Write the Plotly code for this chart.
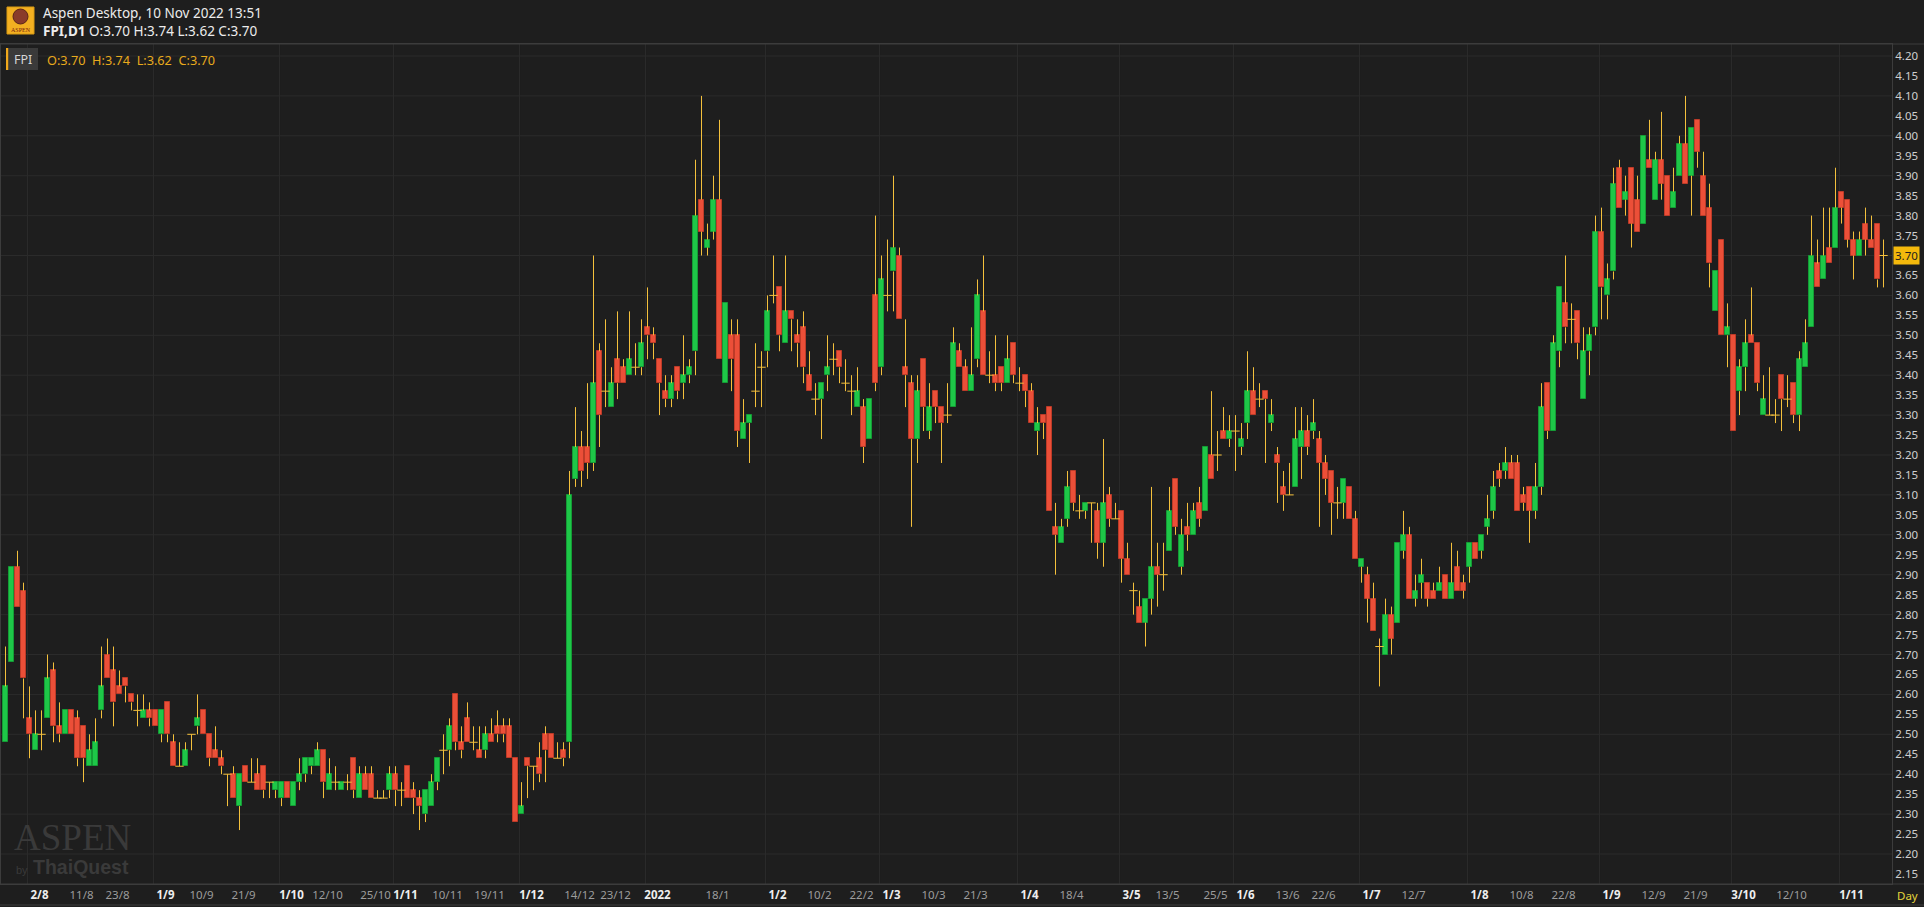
import plotly.graph_objects as go

# ---------------- data ----------------
open_ = [
 2.48,2.68,2.92,2.86,2.54,2.46,2.50,2.54,2.66,2.52,2.50,2.56,2.54,2.52,2.42,2.42,2.56,2.70,2.66,2.62,
 2.64,2.60,2.56,2.54,2.56,2.56,2.50,2.58,2.48,2.42,2.42,2.50,2.52,2.56,2.50,2.46,2.44,2.40,2.40,2.32,
 2.42,2.38,2.40,2.42,2.38,2.36,2.34,2.38,2.32,2.38,2.40,2.42,2.42,2.46,2.36,2.38,2.36,2.38,2.44,2.34,
 2.40,2.40,2.34,2.34,2.36,2.40,2.36,2.42,2.36,2.34,2.30,2.32,2.38,2.46,2.46,2.60,2.48,2.54,2.48,2.46,
 2.46,2.50,2.52,2.52,2.52,2.44,2.30,2.44,2.42,2.44,2.50,2.50,2.44,2.46,2.48,3.14,3.22,3.22,3.18,3.46,
 3.36,3.32,3.44,3.42,3.40,3.42,3.42,3.52,3.50,3.44,3.36,3.34,3.42,3.38,3.40,3.46,3.84,3.72,3.76,3.84,
 3.38,3.50,3.50,3.24,3.28,3.36,3.42,3.46,3.60,3.62,3.48,3.56,3.50,3.52,3.40,3.34,3.34,3.40,3.44,3.46,
 3.38,3.36,3.32,3.32,3.24,3.60,3.42,3.60,3.66,3.70,3.42,3.38,3.24,3.44,3.26,3.36,3.32,3.30,3.32,3.46,
 3.42,3.36,3.44,3.56,3.40,3.40,3.42,3.38,3.48,3.38,3.40,3.36,3.26,3.30,3.32,3.02,2.98,3.04,3.16,3.06,
 3.06,3.08,3.06,2.98,3.10,3.04,3.06,2.94,2.86,2.82,2.78,2.84,2.92,2.90,2.96,3.14,2.92,3.02,3.00,3.08,
 3.06,3.20,3.20,3.26,3.24,3.26,3.22,3.28,3.36,3.34,3.36,3.28,3.20,3.12,3.10,3.12,3.22,3.26,3.26,3.24,
 3.18,3.16,3.08,3.08,3.12,3.04,2.92,2.90,2.84,2.72,2.70,2.80,2.78,2.96,3.00,2.84,2.88,2.88,2.86,2.86,
 2.90,2.84,2.92,2.88,2.92,2.98,2.96,3.02,3.06,3.16,3.16,3.18,3.18,3.10,3.12,3.06,3.12,3.38,3.26,3.46,
 3.58,3.54,3.56,3.34,3.46,3.52,3.76,3.60,3.66,3.92,3.84,3.92,3.84,3.78,3.94,3.84,3.94,3.90,3.82,3.90,
 3.98,3.90,4.04,3.90,3.82,3.56,3.74,3.50,3.50,3.36,3.42,3.50,3.48,3.30,3.30,3.30,3.40,3.34,3.38,3.30,
 3.42,3.52,3.68,3.64,3.72,3.72,3.86,3.84,3.74,3.70,3.78,3.74,3.78,3.70]
high = [
 2.72,2.92,2.96,2.88,2.62,2.56,2.56,2.70,2.68,2.58,2.56,2.56,2.56,2.52,2.50,2.54,2.72,2.74,2.72,2.66,
 2.64,2.60,2.60,2.60,2.58,2.56,2.56,2.58,2.50,2.48,2.48,2.50,2.60,2.56,2.50,2.52,2.46,2.40,2.42,2.40,
 2.42,2.44,2.44,2.42,2.38,2.38,2.38,2.38,2.38,2.44,2.44,2.44,2.48,2.46,2.44,2.42,2.38,2.40,2.44,2.42,
 2.42,2.42,2.36,2.36,2.42,2.42,2.38,2.42,2.38,2.36,2.36,2.40,2.44,2.50,2.54,2.60,2.52,2.58,2.52,2.52,
 2.52,2.54,2.56,2.54,2.54,2.44,2.38,2.44,2.42,2.48,2.52,2.50,2.48,2.48,3.16,3.32,3.26,3.38,3.70,3.48,
 3.54,3.42,3.56,3.44,3.56,3.48,3.54,3.62,3.52,3.44,3.40,3.40,3.42,3.50,3.44,3.94,4.10,3.78,3.90,4.04,
 3.58,3.54,3.54,3.34,3.30,3.48,3.46,3.60,3.70,3.62,3.70,3.56,3.54,3.56,3.46,3.38,3.38,3.50,3.48,3.46,
 3.44,3.40,3.42,3.34,3.34,3.80,3.70,3.74,3.90,3.72,3.54,3.40,3.40,3.44,3.38,3.36,3.32,3.38,3.52,3.48,
 3.44,3.52,3.64,3.70,3.46,3.50,3.42,3.50,3.48,3.42,3.40,3.38,3.32,3.30,3.32,3.08,3.04,3.16,3.16,3.10,
 3.08,3.08,3.08,3.24,3.12,3.08,3.06,2.98,2.88,2.86,2.84,3.12,2.98,2.98,3.12,3.14,3.04,3.08,3.08,3.12,
 3.22,3.36,3.26,3.32,3.30,3.30,3.28,3.46,3.42,3.38,3.36,3.34,3.22,3.16,3.18,3.32,3.32,3.30,3.34,3.26,
 3.20,3.16,3.12,3.14,3.12,3.06,2.94,2.92,2.88,2.74,2.84,2.82,2.98,3.06,3.02,2.90,2.94,2.88,2.88,2.92,
 2.90,2.98,2.96,2.90,2.98,2.98,3.00,3.10,3.16,3.18,3.22,3.20,3.20,3.12,3.12,3.18,3.38,3.38,3.50,3.62,
 3.70,3.58,3.56,3.52,3.52,3.80,3.82,3.68,3.92,3.94,3.90,3.92,3.90,4.00,4.04,3.96,4.06,3.90,3.92,4.00,
 4.10,4.02,4.04,3.96,3.88,3.66,3.74,3.58,3.50,3.44,3.54,3.62,3.48,3.40,3.42,3.34,3.40,3.40,3.38,3.46,
 3.54,3.80,3.74,3.82,3.82,3.92,3.86,3.84,3.76,3.76,3.82,3.80,3.78,3.74]
low = [
 2.48,2.68,2.82,2.54,2.44,2.46,2.46,2.54,2.48,2.48,2.50,2.50,2.42,2.38,2.42,2.42,2.54,2.64,2.52,2.60,
 2.58,2.56,2.52,2.54,2.52,2.52,2.48,2.48,2.42,2.42,2.42,2.46,2.50,2.50,2.42,2.44,2.40,2.32,2.34,2.26,
 2.38,2.38,2.36,2.34,2.34,2.34,2.32,2.34,2.32,2.36,2.38,2.40,2.42,2.34,2.36,2.36,2.36,2.36,2.34,2.34,
 2.36,2.34,2.34,2.34,2.34,2.32,2.32,2.34,2.30,2.26,2.28,2.32,2.36,2.40,2.42,2.46,2.44,2.48,2.46,2.44,
 2.44,2.48,2.48,2.48,2.44,2.28,2.30,2.34,2.36,2.38,2.38,2.44,2.44,2.42,2.44,3.12,3.12,3.14,3.16,3.22,
 3.32,3.32,3.34,3.38,3.40,3.40,3.40,3.44,3.44,3.30,3.32,3.32,3.34,3.34,3.38,3.40,3.70,3.70,3.74,3.44,
 3.38,3.36,3.22,3.24,3.18,3.32,3.32,3.42,3.58,3.46,3.48,3.46,3.42,3.38,3.36,3.30,3.24,3.36,3.40,3.38,
 3.36,3.30,3.32,3.18,3.24,3.36,3.40,3.56,3.56,3.54,3.32,3.02,3.18,3.26,3.24,3.28,3.18,3.28,3.32,3.42,
 3.36,3.36,3.42,3.40,3.38,3.36,3.36,3.38,3.38,3.36,3.32,3.28,3.20,3.24,3.06,2.90,2.98,3.02,3.06,3.04,
 3.04,2.98,2.94,2.92,3.02,3.04,2.88,2.90,2.80,2.78,2.72,2.80,2.82,2.86,2.96,3.00,2.90,2.96,3.00,3.02,
 3.06,3.14,3.16,3.24,3.22,3.16,3.20,3.24,3.30,3.32,3.18,3.26,3.08,3.06,3.10,3.12,3.14,3.20,3.24,3.02,
 3.10,3.00,3.04,3.04,3.04,2.94,2.88,2.78,2.76,2.62,2.70,2.70,2.78,2.94,2.84,2.82,2.84,2.82,2.84,2.86,
 2.84,2.84,2.86,2.84,2.88,2.94,2.94,3.00,3.04,3.12,3.14,3.14,3.06,3.06,2.98,3.04,3.10,3.24,3.26,3.42,
 3.48,3.48,3.44,3.34,3.40,3.50,3.54,3.54,3.64,3.82,3.80,3.72,3.76,3.78,3.92,3.84,3.84,3.80,3.82,3.90,
 3.88,3.80,3.92,3.80,3.62,3.56,3.50,3.42,3.26,3.30,3.36,3.48,3.36,3.30,3.30,3.28,3.26,3.32,3.28,3.26,
 3.42,3.52,3.62,3.64,3.68,3.72,3.78,3.72,3.64,3.70,3.70,3.72,3.62,3.62]
close = [
 2.62,2.92,2.82,2.64,2.50,2.50,2.50,2.64,2.52,2.50,2.56,2.50,2.44,2.44,2.46,2.48,2.62,2.64,2.58,2.60,
 2.62,2.58,2.56,2.56,2.54,2.52,2.56,2.50,2.42,2.42,2.46,2.50,2.54,2.50,2.44,2.44,2.42,2.40,2.34,2.40,
 2.38,2.38,2.36,2.36,2.38,2.38,2.38,2.34,2.38,2.40,2.44,2.44,2.46,2.38,2.40,2.38,2.38,2.38,2.36,2.40,
 2.36,2.34,2.34,2.34,2.40,2.36,2.36,2.34,2.34,2.32,2.36,2.38,2.44,2.46,2.52,2.48,2.46,2.48,2.48,2.44,
 2.50,2.48,2.50,2.50,2.44,2.28,2.32,2.42,2.42,2.40,2.46,2.44,2.44,2.44,3.10,3.22,3.16,3.18,3.38,3.30,
 3.36,3.38,3.38,3.38,3.44,3.42,3.48,3.50,3.48,3.38,3.34,3.38,3.36,3.40,3.42,3.80,3.76,3.74,3.84,3.44,
 3.58,3.44,3.26,3.28,3.30,3.36,3.42,3.56,3.60,3.50,3.56,3.54,3.48,3.42,3.36,3.34,3.38,3.42,3.44,3.42,
 3.38,3.36,3.36,3.22,3.34,3.38,3.64,3.60,3.72,3.54,3.40,3.24,3.36,3.32,3.32,3.32,3.28,3.30,3.48,3.42,
 3.36,3.40,3.60,3.40,3.40,3.38,3.38,3.44,3.40,3.38,3.36,3.28,3.28,3.28,3.06,3.00,3.02,3.12,3.08,3.06,
 3.08,3.08,2.98,3.08,3.04,3.04,2.94,2.90,2.86,2.78,2.84,2.92,2.90,2.90,3.06,3.02,3.00,3.00,3.06,3.04,
 3.22,3.14,3.20,3.24,3.26,3.26,3.24,3.36,3.30,3.34,3.34,3.30,3.18,3.10,3.10,3.24,3.26,3.22,3.28,3.18,
 3.14,3.08,3.08,3.14,3.04,2.94,2.94,2.84,2.76,2.72,2.80,2.74,2.98,3.00,2.84,2.86,2.90,2.84,2.84,2.88,
 2.84,2.88,2.86,2.86,2.98,2.94,3.00,3.04,3.12,3.14,3.18,3.14,3.06,3.08,3.06,3.12,3.32,3.26,3.48,3.62,
 3.52,3.54,3.48,3.46,3.50,3.76,3.62,3.64,3.88,3.82,3.86,3.78,3.76,4.00,3.92,3.94,3.88,3.80,3.86,3.98,
 3.88,4.02,3.96,3.80,3.68,3.66,3.50,3.52,3.26,3.42,3.48,3.48,3.38,3.34,3.30,3.30,3.34,3.34,3.30,3.44,
 3.48,3.70,3.62,3.70,3.68,3.82,3.82,3.74,3.70,3.74,3.74,3.72,3.64,3.70]

# x-axis labels (candle index of the labelled session)
x_tick_idx = [4, 11, 17, 25, 31, 38, 46, 52, 60, 65, 72, 79, 86, 94, 100, 107, 117, 127, 134, 141,
              146, 153, 160, 169, 176, 186, 192, 200, 205, 212, 218, 226, 233, 244, 251, 258, 266, 273,
              280, 288, 296, 306]
x_tick_text = ["2/8", "11/8", "23/8", "1/9", "10/9", "21/9", "1/10", "12/10", "25/10", "1/11", "10/11",
               "19/11", "1/12", "14/12", "23/12", "2022", "18/1", "1/2", "10/2", "22/2", "1/3", "10/3",
               "21/3", "1/4", "18/4", "3/5", "13/5", "25/5", "1/6", "13/6", "22/6", "1/7", "12/7", "1/8",
               "10/8", "22/8", "1/9", "12/9", "21/9", "3/10", "12/10", "1/11"]
x_tick_major = [1, 0, 0, 1, 0, 0, 1, 0, 0, 1, 0, 0, 1, 0, 0, 1, 0, 1, 0, 0, 1, 0, 0, 1, 0, 1, 0, 0, 1,
                0, 0, 1, 0, 1, 0, 0, 1, 0, 0, 1, 0, 1]

y_tick_labels = ["2.15", "2.20", "2.25", "2.30", "2.35", "2.40", "2.45", "2.50", "2.55", "2.60", "2.65",
                 "2.70", "2.75", "2.80", "2.85", "2.90", "2.95", "3.00", "3.05", "3.10", "3.15", "3.20",
                 "3.25", "3.30", "3.35", "3.40", "3.45", "3.50", "3.55", "3.60", "3.65", "3.70", "3.75",
                 "3.80", "3.85", "3.90", "3.95", "4.00", "4.05", "4.10", "4.15", "4.20"]

symbol = "FPI"
timeframe = "D1"
last_o, last_h, last_l, last_c = 3.70, 3.74, 3.62, 3.70
title_text = "Aspen Desktop, 10 Nov 2022 13:51"

# ---------------- styles ----------------
BG = "#1e1e1e"
GRID = "#2b2b2b"
AXLINE = "#3c3c3c"
UP, UP_EDGE = "#1ec748", "#149c35"
DN, DN_EDGE = "#eb4f38", "#bd3b28"
WICK = "#f4c03c"
FONT = "Noto Sans"
W, H = 1924, 907
PL, PR, PT, PB = 1, 1892, 44, 884          # plot box in page pixels
Y_RANGE = [4.20 - (PB - 56) / 399.0, 4.20 + (56 - PT) / 399.0]
X0 = -(5.5 - PL) / 6.0
X_RANGE = [X0, X0 + (PR - PL) / 6.0]


def px(xp):
    return (xp - PL) / (PR - PL)


def py(yp):
    return (PB - yp) / (PB - PT)


# ---------------- build marks ----------------
body_x, body_base, body_h, body_fill, body_edge = [], [], [], [], []
doji_x, doji_y = [], []
wick_x, wick_y = [], []
for i, (o, h, l, c) in enumerate(zip(open_, high, low, close)):
    top, bot = max(o, c), min(o, c)
    if abs(c - o) < 1e-9:
        doji_x.append(i)
        doji_y.append(o)
        wick_x += [i, i, None]
        wick_y += [l, h, None]
    else:
        body_x.append(i)
        body_base.append(bot)
        body_h.append(top - bot)
        body_fill.append(UP if c > o else DN)
        body_edge.append(UP_EDGE if c > o else DN_EDGE)
        if h > top + 1e-9:
            wick_x += [i, i, None]
            wick_y += [top, h, None]
        if l < bot - 1e-9:
            wick_x += [i, i, None]
            wick_y += [bot, l, None]

fig = go.Figure()
fig.add_trace(go.Bar(x=body_x, y=body_h, base=body_base, width=0.78,
                     marker=dict(color=body_fill, line=dict(color=body_edge, width=1)),
                     hoverinfo="skip"))
fig.add_trace(go.Scatter(x=wick_x, y=wick_y, mode="lines", line=dict(color=WICK, width=1),
                         hoverinfo="skip", connectgaps=False))
fig.add_trace(go.Scatter(x=doji_x, y=doji_y, mode="markers",
                         marker=dict(symbol="line-ew", size=6, line=dict(color=WICK, width=1)),
                         hoverinfo="skip"))

shapes = []
# horizontal grid every 0.10
for s in y_tick_labels:
    if s.endswith("0"):
        shapes.append(dict(type="line", xref="paper", yref="y", x0=0, x1=1, y0=float(s), y1=float(s),
                           line=dict(color=GRID, width=1), layer="below"))
# vertical grid at month starts
for xi, mj in zip(x_tick_idx, x_tick_major):
    if mj:
        shapes.append(dict(type="line", xref="x", yref="paper", x0=xi - 0.33, x1=xi - 0.33, y0=0, y1=1,
                           line=dict(color=GRID, width=1), layer="below"))
# frame lines extending across the price column
shapes.append(dict(type="line", xref="paper", yref="paper", x0=px(0), x1=px(W), y0=py(PT), y1=py(PT),
                   line=dict(color=AXLINE, width=1)))
shapes.append(dict(type="line", xref="paper", yref="paper", x0=px(0), x1=px(W), y0=py(PB), y1=py(PB),
                   line=dict(color=AXLINE, width=1)))
shapes.append(dict(type="line", xref="paper", yref="paper", x0=px(0), x1=px(W), y0=py(905), y1=py(905),
                   line=dict(color=AXLINE, width=1)))
# logo
shapes.append(dict(type="rect", xref="paper", yref="paper", x0=px(7), x1=px(34), y0=py(7), y1=py(34),
                   fillcolor="#f3b021", line=dict(color="#d99a12", width=1)))
shapes.append(dict(type="circle", xref="paper", yref="paper", x0=px(13), x1=px(28), y0=py(9), y1=py(24),
                   fillcolor="#8a3b2a", line=dict(color="#5a2418", width=1)))
# legend chip
shapes.append(dict(type="rect", xref="paper", yref="paper", x0=px(6), x1=px(8.5), y0=py(48), y1=py(70),
                   fillcolor="#f0a81c", line=dict(width=0)))
shapes.append(dict(type="rect", xref="paper", yref="paper", x0=px(8.5), x1=px(38), y0=py(48), y1=py(70),
                   fillcolor="#3a3a3a", line=dict(width=0)))

ann = []
ann.append(dict(text=title_text, x=px(41), y=py(13), xref="paper", yref="paper", xanchor="left",
                yanchor="middle", showarrow=False, font=dict(family=FONT, size=13.5, color="#ececec")))
ann.append(dict(text="<b>%s,%s</b> O:%.2f H:%.2f L:%.2f C:%.2f" % (symbol, timeframe, last_o, last_h, last_l, last_c),
                x=px(41), y=py(31), xref="paper", yref="paper", xanchor="left", yanchor="middle",
                showarrow=False, font=dict(family=FONT, size=13.5, color="#ececec")))
ann.append(dict(text="ASPEN", x=px(20.5), y=py(30), xref="paper", yref="paper", xanchor="center",
                yanchor="middle", showarrow=False, font=dict(family="Liberation Serif", size=6, color="#7a1f10")))
ann.append(dict(text=symbol, x=px(23), y=py(59.5), xref="paper", yref="paper", xanchor="center",
                yanchor="middle", showarrow=False, font=dict(family=FONT, size=12.5, color="#d6d6d6")))
ann.append(dict(text="O:%.2f  H:%.2f  L:%.2f  C:%.2f" % (last_o, last_h, last_l, last_c),
                x=px(45), y=py(60), xref="paper", yref="paper", xanchor="left", yanchor="middle",
                showarrow=False, font=dict(family=FONT, size=12.7, color="#e8aa1c")))
ann.append(dict(text="%.2f" % last_c, x=px(1893), y=last_c, xref="paper", yref="y", xanchor="left",
                yanchor="middle", showarrow=False, bgcolor="#f4b90c", borderpad=1,
                font=dict(family=FONT, size=11.5, color="#1e1e1e")))
ann.append(dict(text="Day", x=px(1908), y=py(895), xref="paper", yref="paper", xanchor="center",
                yanchor="middle", showarrow=False, font=dict(family=FONT, size=11.5, color="#e3d43c")))
ann.append(dict(text="ASPEN", x=px(72), y=py(837), xref="paper", yref="paper", xanchor="center",
                yanchor="middle", showarrow=False, font=dict(family="Liberation Serif", size=37, color="#3a3a3a")))
ann.append(dict(text="<span style='font-size:11px'>by</span> <b>ThaiQuest</b>", x=px(14), y=py(867),
                xref="paper", yref="paper", xanchor="left", yanchor="middle", showarrow=False,
                font=dict(family="Liberation Sans", size=19.5, color="#3a3a3a")))

tick_text = [("<b>%s</b>" % t) if m else ("<span style='color:#9c9c9c'>%s</span>" % t)
             for t, m in zip(x_tick_text, x_tick_major)]

fig.update_layout(
    width=W, height=H, margin=dict(l=PL, r=W - PR, t=PT, b=H - PB),
    paper_bgcolor=BG, plot_bgcolor=BG, showlegend=False, hovermode=False,
    bargap=0, shapes=shapes, annotations=ann,
    xaxis=dict(range=X_RANGE, tickmode="array", tickvals=x_tick_idx, ticktext=tick_text,
               showgrid=False, zeroline=False, showline=True, mirror=True, linecolor=AXLINE,
               ticks="", ticklabelshift=10, tickfont=dict(family=FONT, size=11.5, color="#eeeeee"),
               fixedrange=True),
    yaxis=dict(range=Y_RANGE, side="right", tickmode="array",
               tickvals=[float(s) for s in y_tick_labels], ticktext=y_tick_labels,
               showgrid=False, zeroline=False, showline=True, mirror=True, linecolor=AXLINE,
               ticks="", tickfont=dict(family=FONT, size=11.5, color="#cfcfcf"), fixedrange=True),
)

fig.write_html("out.html", config={"displayModeBar": False})
with open("out.html", "r", encoding="utf-8") as f:
    html = f.read()
html = html.replace("<body>", "<body style=\"margin:0;background:%s;overflow:hidden\">" % BG, 1)
with open("out.html", "w", encoding="utf-8") as f:
    f.write(html)
